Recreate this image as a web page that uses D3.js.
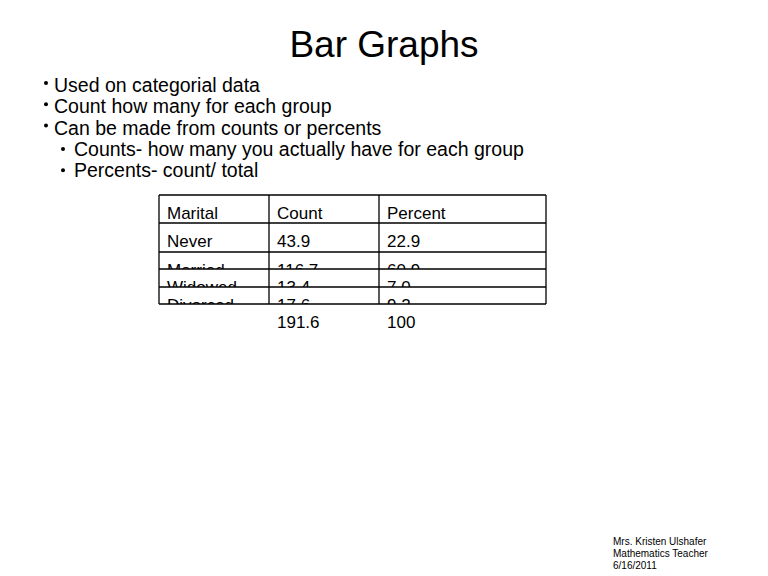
<!DOCTYPE html>
<html>
<head>
<meta charset="utf-8">
<script src="https://cdn.jsdelivr.net/npm/d3@7"></script>
<style>
  html, body { margin: 0; padding: 0; background: #fff; }
  text { font-family: "Liberation Sans", Arial, sans-serif; fill: #000; }
</style>
</head>
<body>
<script>
// slide content
var title = "Bar Graphs";
var bullets = [
  "Used on categorial data",
  "Count how many for each group",
  "Can be made from counts or percents"
];
var subBullets = [
  "Counts- how many you actually have for each group",
  "Percents- count/ total"
];

// table data
var headers = ["Marital", "Count", "Percent"];
var marital = ["Never", "Married", "Widowed", "Divorced"];
var counts = [43.9, 116.7, 13.4, 17.6];
var percents = [22.9, 60.9, 7.0, 9.2];
var totals = ["", "191.6", "100"];

var footer = ["Mrs. Kristen Ulshafer", "Mathematics Teacher", "6/16/2011"];

var W = 768, H = 576;

var svg = d3.select("body").append("svg")
    .attr("width", W).attr("height", H);

svg.append("text")
    .attr("x", 384).attr("y", 57)
    .attr("text-anchor", "middle")
    .style("font-size", "37px")
    .text(title);

// bullet list
var lineY = d3.scaleLinear().domain([0, 1]).range([92, 113.3]);

var items = bullets.map(function(t) { return {text: t, lvl: 0}; })
  .concat(subBullets.map(function(t) { return {text: t, lvl: 1}; }));

var li = svg.append("g").selectAll("g")
    .data(items)
  .enter().append("g")
    .attr("transform", function(d, i) { return "translate(0," + lineY(i) + ")"; });

li.append("circle")
    .attr("cx", function(d) { return d.lvl ? 63 : 46; })
    .attr("cy", function(d) { return d.lvl ? -7 : -9; })
    .attr("r", 2);

li.append("text")
    .attr("x", function(d) { return d.lvl ? 74 : 54; })
    .style("font-size", "19.5px")
    .text(function(d) { return d.text; });

// table
var colEdges = [159, 269, 379, 546];
var rowEdges = [195, 223, 252, 269, 287, 304];

var rows = [headers].concat(marital.map(function(m, i) {
  return [m, counts[i].toFixed(1), percents[i].toFixed(1)];
}));

var table = svg.append("g");

table.selectAll("clipPath")
    .data(rows)
  .enter().append("clipPath")
    .attr("id", function(d, i) { return "row" + i; })
  .append("rect")
    .attr("x", colEdges[0])
    .attr("y", function(d, i) { return rowEdges[i]; })
    .attr("width", colEdges[3] - colEdges[0])
    .attr("height", function(d, i) { return rowEdges[i + 1] - rowEdges[i]; });

var rowG = table.selectAll("g.row")
    .data(rows)
  .enter().append("g")
    .attr("class", "row")
    .attr("clip-path", function(d, i) { return "url(#row" + i + ")"; });

rowG.selectAll("text")
    .data(function(d, i) { return d.map(function(v, j) { return {v: v, r: i, c: j}; }); })
  .enter().append("text")
    .attr("x", function(d) { return colEdges[d.c] + 8; })
    .attr("y", function(d) { return rowEdges[d.r] + 24; })
    .style("font-size", "17px")
    .text(function(d) { return d.v; });

table.selectAll("line.h")
    .data(rowEdges)
  .enter().append("line")
    .attr("x1", colEdges[0]).attr("x2", colEdges[3])
    .attr("y1", function(d) { return d; }).attr("y2", function(d) { return d; })
    .attr("stroke", "#000").attr("stroke-width", 1.3);

table.selectAll("line.v")
    .data(colEdges)
  .enter().append("line")
    .attr("y1", rowEdges[0]).attr("y2", rowEdges[rowEdges.length - 1])
    .attr("x1", function(d) { return d; }).attr("x2", function(d) { return d; })
    .attr("stroke", "#000").attr("stroke-width", 1.3);

table.selectAll("text.total")
    .data(totals)
  .enter().append("text")
    .attr("class", "total")
    .attr("x", function(d, i) { return colEdges[i] + 8; })
    .attr("y", rowEdges[rowEdges.length - 1] + 24)
    .style("font-size", "17px")
    .text(function(d) { return d; });

svg.append("g").selectAll("text")
    .data(footer)
  .enter().append("text")
    .attr("x", 613)
    .attr("y", function(d, i) { return 545 + i * 12; })
    .style("font-size", "10px")
    .text(function(d) { return d; });
</script>
</body>
</html>
